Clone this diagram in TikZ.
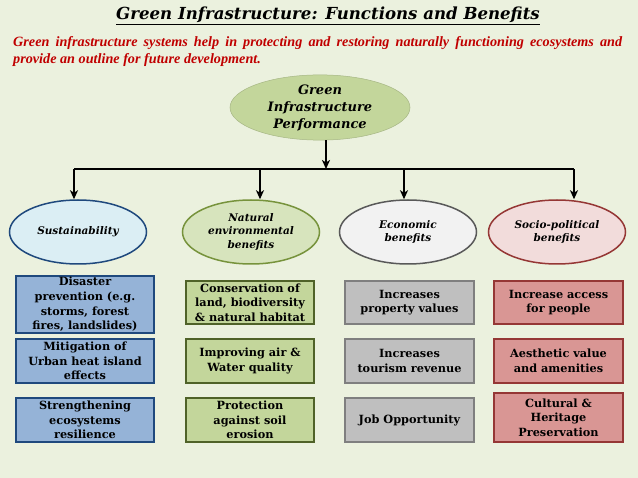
\documentclass[tikz,border=0pt]{standalone}
\usepackage{fontspec}
\setmainfont{DejaVu Serif}
\newfontfamily\subfont{Liberation Serif}
\usetikzlibrary{shapes.geometric,arrows.meta}
\definecolor{bg}{HTML}{EBF1DE}
\definecolor{subred}{HTML}{C00000}
\definecolor{perffill}{HTML}{C3D69B}
\definecolor{susfill}{HTML}{DBEEF4}
\definecolor{susdraw}{HTML}{1F497D}
\definecolor{natfill}{HTML}{D7E4BD}
\definecolor{natdraw}{HTML}{77933C}
\definecolor{ecofill}{HTML}{F2F2F2}
\definecolor{ecodraw}{HTML}{595959}
\definecolor{socfill}{HTML}{F2DCDB}
\definecolor{socdraw}{HTML}{953735}
\definecolor{bluebox}{HTML}{95B3D7}
\definecolor{greenbox}{HTML}{C3D69B}
\definecolor{greendraw}{HTML}{4F6228}
\definecolor{graybox}{HTML}{BFBFBF}
\definecolor{graydraw}{HTML}{7F7F7F}
\definecolor{redbox}{HTML}{D99694}
\tikzset{
  catell/.style={ellipse, line width=1.5pt, minimum width=137pt, minimum height=64pt,
    inner sep=0pt, align=center, font=\fontsize{10.5}{13.5}\selectfont\bfseries\itshape},
  infobox/.style={rectangle, line width=1.5pt, inner sep=0pt, align=center,
    font=\fontsize{11.3}{14.6}\selectfont\bfseries},
  bluecol/.style={infobox, fill=bluebox, draw=susdraw, minimum width=138pt},
  greencol/.style={infobox, fill=greenbox, draw=greendraw, minimum width=128pt},
  graycol/.style={infobox, fill=graybox, draw=graydraw, minimum width=129pt},
  redcol/.style={infobox, fill=redbox, draw=socdraw, minimum width=129pt},
  conn/.style={line width=1.8pt, black},
  arr/.style={conn, -{Stealth[length=9pt,width=8pt,inset=2.5pt]}}
}
\begin{document}
\begin{tikzpicture}[x=1pt,y=-1pt]
\useasboundingbox (0,0) rectangle (638,478);
\fill[bg] (0,0) rectangle (638,478);

\node (title) at (328,16) {\fontsize{16.6}{19}\selectfont\bfseries\itshape\underline{Green Infrastructure: Functions and Benefits}};

\node[anchor=north west, inner sep=0pt, text width=609pt, align=justify, text=subred,
  font=\subfont\fontsize{14.2}{17}\selectfont\bfseries\itshape] (sub) at (13,36)
  {Green infrastructure systems help in protecting and restoring naturally functioning ecosystems and\linebreak provide an outline for future development.};

\node[ellipse, fill=perffill, draw=perffill!85!black, line width=0.5pt, minimum width=180pt,
  minimum height=63pt, inner sep=0pt, align=center,
  font=\fontsize{13}{17}\selectfont\bfseries\itshape] (perf) at (320,107.5)
  {Green\\Infrastructure\\Performance};

\node[catell, fill=susfill, draw=susdraw] (sus) at (78,232) {Sustainability};
\node[catell, fill=natfill, draw=natdraw] (nat) at (251,232) {Natural\\environmental\\benefits};
\node[catell, fill=ecofill, draw=ecodraw] (eco) at (408,232) {Economic\\benefits};
\node[catell, fill=socfill, draw=socdraw] (soc) at (557,232) {Socio-political\\benefits};

\coordinate (hub) at (326,169);
\coordinate (c1) at (74,169);
\coordinate (c2) at (260,169);
\coordinate (c3) at (404,169);
\coordinate (c4) at (574,169);
\draw[arr] (perf.south -| hub) -- (hub);
\draw[conn] (c1) -- (c4);
\draw[arr] (c1) -- (c1 |- sus.north);
\draw[arr] (c2) -- (c2 |- nat.north);
\draw[arr] (c3) -- (c3 |- eco.north);
\draw[arr] (c4) -- (c4 |- soc.north);

\node[bluecol, minimum height=57pt] (b1) at (85,304.5) {Disaster\\prevention (e.g.\\storms, forest\\fires, landslides)};
\node[bluecol, minimum height=44pt] (b2) at (85,361) {Mitigation of\\Urban heat island\\effects};
\node[bluecol, minimum height=44pt] (b3) at (85,420) {Strengthening\\ecosystems\\resilience};

\node[greencol, minimum height=43pt] (g1) at (250,302.5) {Conservation of\\land, biodiversity\\\& natural habitat};
\node[greencol, minimum height=44pt] (g2) at (250,361) {Improving air \&\\Water quality};
\node[greencol, minimum height=44pt] (g3) at (250,420) {Protection\\against soil\\erosion};

\node[graycol, minimum height=43pt] (e1) at (409.5,302.5) {Increases\\property values};
\node[graycol, minimum height=44pt] (e2) at (409.5,361) {Increases\\tourism revenue};
\node[graycol, minimum height=44pt] (e3) at (409.5,420) {Job Opportunity};

\node[redcol, minimum height=43pt] (r1) at (558.5,302.5) {Increase access\\for people};
\node[redcol, minimum height=44pt] (r2) at (558.5,361) {Aesthetic value\\and amenities};
\node[redcol, minimum height=49pt] (r3) at (558.5,417.5) {Cultural \&\\Heritage\\Preservation};
\end{tikzpicture}
\end{document}
